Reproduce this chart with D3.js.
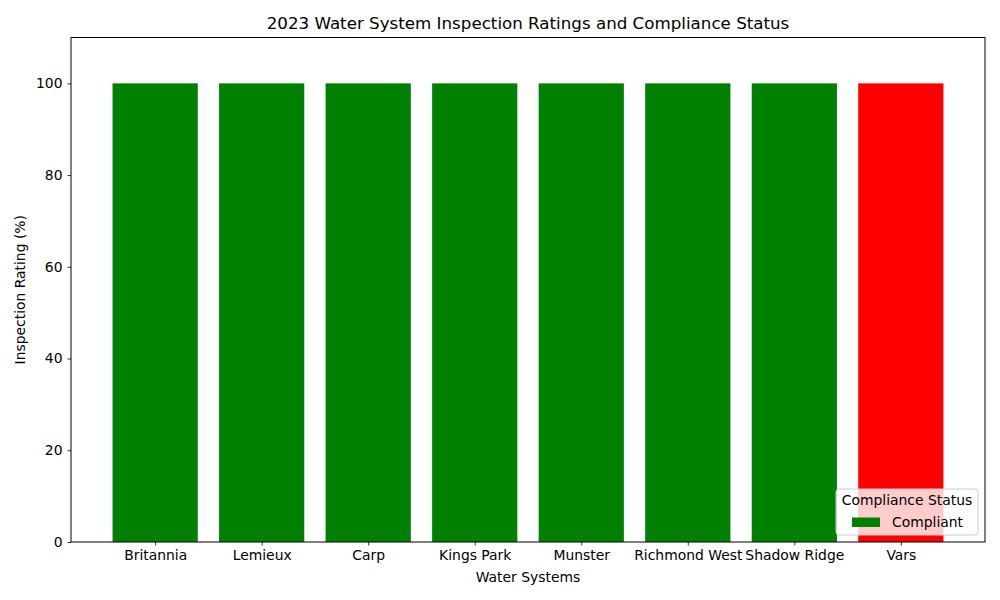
<!DOCTYPE html>
<html>
<head>
<meta charset="utf-8">
<script src="https://cdn.jsdelivr.net/npm/d3@7"></script>
<style>
body { margin: 0; background: #fff; }
text { font-family: "DejaVu Sans", sans-serif; fill: #000; }
</style>
</head>
<body>
<svg id="chart" width="1000" height="600"></svg>
<script>
const systems = ["Britannia", "Lemieux", "Carp", "Kings Park", "Munster", "Richmond West", "Shadow Ridge", "Vars"];
const ratings = [100, 100, 100, 100, 100, 100, 100, 100];
const status = ["Compliant", "Compliant", "Compliant", "Compliant", "Compliant", "Compliant", "Compliant", "Non-Compliant"];
const yTicks = [0, 20, 40, 60, 80, 100];
const colors = { "Compliant": "#008000", "Non-Compliant": "#ff0000" };

const svg = d3.select("#chart");
const L = 71, R = 985, T = 37.5, B = 542;
const x = d3.scaleLinear().domain([-0.79, systems.length - 1 + 0.79]).range([L, R]);
const y = d3.scaleLinear().domain([0, 110]).range([B, T]);
const bw = x(0.8) - x(0);
const fs = "13.9px";

svg.append("g").selectAll("rect").data(systems).join("rect")
  .attr("x", (d, i) => x(i) - bw / 2)
  .attr("width", bw)
  .attr("y", (d, i) => y(ratings[i]))
  .attr("height", (d, i) => y(0) - y(ratings[i]))
  .attr("fill", (d, i) => colors[status[i]]);

const xAxis = d3.axisBottom(x).tickValues(d3.range(systems.length)).tickFormat(i => systems[i]).tickSize(3.5).tickPadding(4.5);
const gx = svg.append("g").attr("transform", `translate(0,${B})`).call(xAxis);
const yAxis = d3.axisLeft(y).tickValues(yTicks).tickSize(3.5).tickPadding(5);
const gy = svg.append("g").attr("transform", `translate(${L},0)`).call(yAxis);
[gx, gy].forEach(g => {
  g.select(".domain").remove();
  g.selectAll("line").attr("stroke", "#000").attr("stroke-width", 0.8);
  g.selectAll("text").style("font-size", fs).style("font-family", "DejaVu Sans");
});

svg.append("rect").attr("x", L).attr("y", T).attr("width", R - L).attr("height", B - T)
  .attr("fill", "none").attr("stroke", "#000").attr("stroke-width", 1);

svg.append("text").attr("x", (L + R) / 2).attr("y", 29).attr("text-anchor", "middle")
  .style("font-size", "16.7px").text("2023 Water System Inspection Ratings and Compliance Status");
svg.append("text").attr("x", (L + R) / 2).attr("y", 582).attr("text-anchor", "middle")
  .style("font-size", fs).text("Water Systems");
svg.append("text").attr("transform", `translate(25,${(T + B) / 2}) rotate(-90)`).attr("text-anchor", "middle")
  .style("font-size", fs).text("Inspection Rating (%)");

// legend
const lg = svg.append("g").attr("transform", "translate(836,489)");
lg.append("rect").attr("width", 142).attr("height", 46).attr("rx", 3)
  .attr("fill", "#fff").attr("fill-opacity", 0.8).attr("stroke", "#ccc").attr("stroke-width", 1);
lg.append("text").attr("x", 71).attr("y", 16).attr("text-anchor", "middle").style("font-size", fs).text("Compliance Status");
lg.append("rect").attr("x", 16).attr("y", 28.5).attr("width", 28).attr("height", 9.5).attr("fill", colors["Compliant"]);
lg.append("text").attr("x", 56).attr("y", 38).style("font-size", fs).text("Compliant");
</script>
</body>
</html>
